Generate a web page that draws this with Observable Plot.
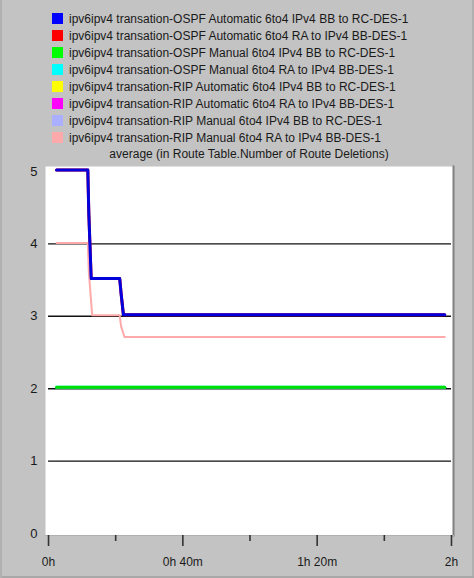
<!DOCTYPE html>
<html>
<head>
<meta charset="utf-8">
<script src="https://cdn.jsdelivr.net/npm/d3@7"></script>
<script src="https://cdn.jsdelivr.net/npm/@observablehq/plot@0.6"></script>
<style>
  html, body { margin: 0; padding: 0; background: #c3c3c3; }
  #wrap { position: relative; width: 474px; height: 578px; overflow: hidden; background: #c3c3c3;
          box-shadow: inset 2px 0 0 #b0b0b0, inset 0 -2px 0 #a8a8a8, inset -2px 0 0 #b0b0b0; }
  #legend { position: absolute; left: 0; top: 0; width: 474px; height: 158px;
            font-family: "Liberation Sans", Arial, sans-serif; font-size: 12px; color: #1a1a1a; }
  .row { position: absolute; left: 52px; height: 17px; line-height: 17px; white-space: nowrap; }
  .sw { display: inline-block; width: 11px; height: 11px; vertical-align: -1px; margin-right: 6px; }
  #sub { position: absolute; top: 146px; left: 45px; width: 408px; text-align: center; line-height: 17px; white-space: nowrap; }
  #chart { position: absolute; left: 0; top: 158px; }
</style>
</head>
<body>
<div id="wrap">
  <div id="legend"></div>
  <div id="chart"></div>
</div>
<script>
// ---- data ----
const seriesNames = [
  "ipv6ipv4 transation-OSPF Automatic 6to4 IPv4 BB to RC-DES-1",
  "ipv6ipv4 transation-OSPF Automatic 6to4 RA to IPv4 BB-DES-1",
  "ipv6ipv4 transation-OSPF Manual 6to4 IPv4 BB to RC-DES-1",
  "ipv6ipv4 transation-OSPF Manual 6to4 RA to IPv4 BB-DES-1",
  "ipv6ipv4 transation-RIP Automatic 6to4 IPv4 BB to RC-DES-1",
  "ipv6ipv4 transation-RIP Automatic 6to4 RA to IPv4 BB-DES-1",
  "ipv6ipv4 transation-RIP Manual 6to4 IPv4 BB to RC-DES-1",
  "ipv6ipv4 transation-RIP Manual 6to4 RA to IPv4 BB-DES-1"
];
const seriesColors = ["#0000ff", "#ff0000", "#00ff00", "#00ffff", "#ffff00", "#ff00ff", "#aab0ff", "#ffaaaa"];
const subtitle = "average (in Route Table.Number of Route Deletions)";

// time in minutes
const blueTimes  = [2.4, 11.7, 12.0, 12.7, 21.2, 21.6, 22.3, 118.0];
const blueValues = [5,   5,    4.4,  3.5,  3.5,  3.3,  3.0,  3.0];
const redTimes   = [2.4, 11.7, 12.0, 12.7, 21.2, 21.6, 22.3, 118.0];
const redValues  = [5,   5,    4.4,  3.5,  3.5,  3.3,  3.0,  3.0];
const greenTimes  = [2.4, 118.0];
const greenValues = [2, 2];
const cyanTimes   = [2.4, 118.0];
const cyanValues  = [2, 2];
const pinkTimes  = [2.4, 11.7, 12.0, 13.0, 21.2, 21.6, 22.6, 118.0];
const pinkValues = [4,   4,    3.6,  3.0,  3.0,  2.85, 2.7,  2.7];

const yTicks = [0, 1, 2, 3, 4, 5];
const gridValues = [1, 2, 3, 4];
const xMajorTicks = [0, 40, 80, 120];
const xMajorLabels = ["0h", "0h 40m", "1h 20m", "2h"];
const xMinorTicks = [20, 60, 100];

// ---- legend ----
const legend = document.getElementById("legend");
seriesNames.forEach((name, i) => {
  const r = document.createElement("div");
  r.className = "row";
  r.style.top = (11 + i * 17) + "px";
  r.innerHTML = `<span class="sw" style="background:${seriesColors[i]}"></span>${name}`;
  legend.appendChild(r);
});
const sub = document.createElement("div");
sub.id = "sub";
sub.textContent = subtitle;
legend.appendChild(sub);

// ---- chart ----
const mk = (times, values) => times.map((t, i) => ({t, v: values[i]}));
const blue = mk(blueTimes, blueValues);
const red = mk(redTimes, redValues);
const green = mk(greenTimes, greenValues);
const cyan = mk(cyanTimes, cyanValues);
const pink = mk(pinkTimes, pinkValues);

const chart = Plot.plot({
  width: 474,
  height: 420,
  marginLeft: 45,
  marginRight: 21,
  marginTop: 8,
  marginBottom: 43,
  style: {background: "transparent", fontFamily: "Liberation Sans, Arial, sans-serif", fontSize: "13px", color: "#1a1a1a"},
  x: {domain: [-0.9, 120.6], label: null},
  y: {domain: [-0.028, 5.069], label: null},
  marks: [
    Plot.frame({fill: "white", stroke: null}),
    Plot.ruleY(gridValues, {x1: 0, x2: 120, stroke: "#111", strokeWidth: 1.4}),
    Plot.line(red, {x: "t", y: "v", stroke: seriesColors[1], strokeWidth: 3, dy: -1.5}),
    Plot.line(cyan, {x: "t", y: "v", stroke: seriesColors[3], strokeWidth: 3, dy: -1.5}),
    Plot.line(pink, {x: "t", y: "v", stroke: seriesColors[7], strokeWidth: 2, dy: -1}),
    Plot.line(green, {x: "t", y: "v", stroke: "#00dd00", strokeWidth: 3, dy: -1.5}),
    Plot.line(blue, {x: "t", y: "v", stroke: "#0000dd", strokeWidth: 3, dy: -1.5}),
    Plot.frame({anchor: "right", stroke: "#808080", strokeWidth: 2}),
    Plot.frame({anchor: "bottom", stroke: "#b0b0b0", strokeWidth: 1}),
    Plot.axisY(yTicks, {tickSize: 0, tickPadding: 8, fontSize: 13, label: null, tickFormat: d => d}),
    Plot.axisX(xMajorTicks, {tickSize: 11, tickPadding: 11, strokeWidth: 1.6, stroke: "#333", fontSize: 12, label: null,
      tickFormat: (d, i) => xMajorLabels[i]}),
    Plot.axisX(xMinorTicks, {tickSize: 6, strokeWidth: 1.6, stroke: "#333", label: null, tickFormat: () => ""})
  ]
});
document.getElementById("chart").appendChild(chart);
</script>
</body>
</html>
